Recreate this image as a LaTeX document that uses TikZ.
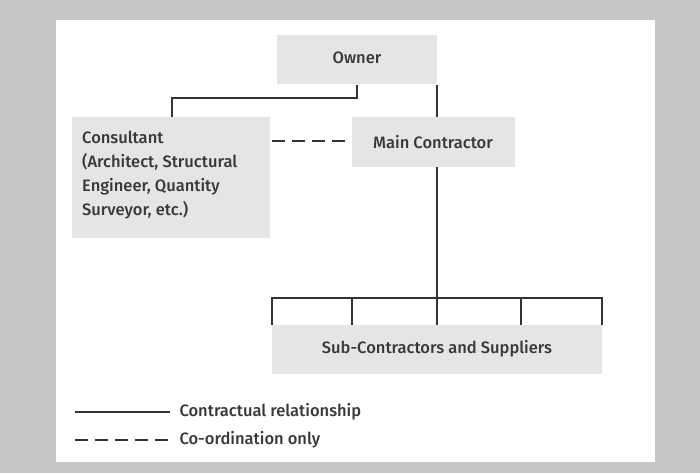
\documentclass[tikz,border=0pt]{standalone}
\usepackage{fontspec}
\setmainfont{Fira Sans}[BoldFont={Fira Sans Medium}]
\begin{document}
\begin{tikzpicture}[x=1pt,y=-1pt,
  box/.style={fill=black!10,draw=none,inner sep=0pt},
  lbl/.style={font=\fontsize{16.5}{24}\selectfont\bfseries\color{black!78}},
  con/.style={line width=1.4pt,draw=black!80},
  dsh/.style={con,dash pattern=on 13pt off 7pt}]
\fill[black!22] (0,0) rectangle (700,473);
\fill[white] (56,20) rectangle (655,462);
\path[box] (277,35) rectangle (437,84);
\node[lbl] (own) at (357,58) {Owner};
\path[box] (72,117) rectangle (270,238);
\node[lbl,anchor=north west,align=left,inner sep=0pt] (con) at (82,131) {Consultant\\(Architect, Structural\\Engineer,\ Quantity\\Surveyor, etc.)};
\path[box] (352,117) rectangle (515,167);
\node[lbl] (mc) at (433,142) {Main Contractor};
\path[box] (272,325) rectangle (602,374);
\node[lbl] (sub) at (437,349) {Sub-Contractors and Suppliers};
\coordinate (o1) at (357,85);
\coordinate (o2) at (437,85);
\coordinate (c1) at (172,117);
\coordinate (m1) at (437,117);
\coordinate (m2) at (437,167);
\coordinate (h) at (437,298);
\draw[con] (o1) -- (357,98) -- (172,98) -- (c1);
\draw[con] (o2) -- (m1);
\draw[con] (m2) -- (h);
\draw[con] (272,325) -- (272,298) -- (602,298) -- (602,325);
\foreach \x in {352,437,521} \draw[con] (\x,298) -- (\x,325);
\draw[dsh] (272,141) -- (352,141);
\draw[con] (75,412) -- (170,412);
\node[lbl,anchor=west] (l1) at (176,412) {Contractual relationship};
\draw[dsh] (75,440) -- (170,440);
\node[lbl,anchor=west] (l2) at (176,440) {Co-ordination only};
\end{tikzpicture}
\end{document}
